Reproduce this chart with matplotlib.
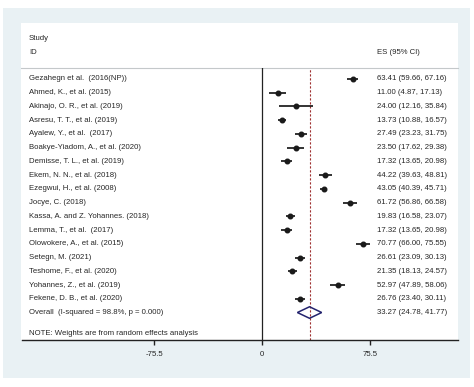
import matplotlib
matplotlib.use("Agg")
import matplotlib.pyplot as plt
from matplotlib.patches import Rectangle, Polygon
from matplotlib.lines import Line2D
import matplotlib.transforms as mtransforms

plt.rcParams['font.family'] = ['Liberation Sans', 'DejaVu Sans']

studies = [
    "Gezahegn et al.  (2016(NP))",
    "Ahmed, K., et al. (2015)",
    "Akinajo, O. R., et al. (2019)",
    "Asresu, T. T., et al. (2019)",
    "Ayalew, Y., et al.  (2017)",
    "Boakye-Yiadom, A., et al. (2020)",
    "Demisse, T. L., et al. (2019)",
    "Ekem, N. N., et al. (2018)",
    "Ezegwui, H., et al. (2008)",
    "Jocye, C. (2018)",
    "Kassa, A. and Z. Yohannes. (2018)",
    "Lemma, T., et al.  (2017)",
    "Olowokere, A., et al. (2015)",
    "Setegn, M. (2021)",
    "Teshome, F., et al. (2020)",
    "Yohannes, Z., et al. (2019)",
    "Fekene, D. B., et al. (2020)",
]
es = [63.41, 11.00, 24.00, 13.73, 27.49, 23.50, 17.32, 44.22, 43.05, 61.72,
      19.83, 17.32, 70.77, 26.61, 21.35, 52.97, 26.76]
lo = [59.66, 4.87, 12.16, 10.88, 23.23, 17.62, 13.65, 39.63, 40.39, 56.86,
      16.58, 13.65, 66.00, 23.09, 18.13, 47.89, 23.40]
hi = [67.16, 17.13, 35.84, 16.57, 31.75, 29.38, 20.98, 48.81, 45.71, 66.58,
      23.07, 20.98, 75.55, 30.13, 24.57, 58.06, 30.11]
overall_label = "Overall  (I-squared = 98.8%, p = 0.000)"
overall = (33.27, 24.78, 41.77)
ticks = [-75.5, 0, 75.5]
tick_labels = ["-75.5", "0", "75.5"]

W, H = 474, 387
fig = plt.figure(figsize=(W / 100, H / 100), dpi=100)
fig.patch.set_facecolor('white')

def fx(px):
    return px / W

def fy(py):
    return 1 - py / H

txt_col = '#262626'
fs = 5.6

# outer background and inner white panel
fig.add_artist(Rectangle((fx(3), fy(378)), fx(470) - fx(3), fy(8) - fy(378),
                         transform=fig.transFigure, facecolor='#e9f1f4', edgecolor='none', zorder=0))
fig.add_artist(Rectangle((fx(21), fy(340)), fx(458) - fx(21), fy(23) - fy(340),
                         transform=fig.transFigure, facecolor='white', edgecolor='none', zorder=0.5))
fig.add_artist(Line2D([fx(21), fx(458)], [fy(68), fy(68)], transform=fig.transFigure,
                      color='#c4c8ca', lw=0.8, zorder=1))

ax = fig.add_axes([fx(22), fy(340), fx(458) - fx(22), fy(68) - fy(340)])
ax.set_zorder(2)
ax.set_facecolor('none')
n = len(studies)
ax.set_xlim(-167.8, 137.1)
ax.set_ylim(19.0, -0.8)
for s in ['top', 'right', 'left']:
    ax.spines[s].set_visible(False)
ax.spines['bottom'].set_linewidth(1.0)
ax.spines['bottom'].set_color('#222222')
ax.set_yticks([])
ax.set_xticks(ticks)
ax.set_xticklabels(tick_labels, fontsize=fs, color=txt_col)
ax.tick_params(axis='x', direction='out', length=3.8, width=1.0, pad=4, color='#222222')

ax.axvline(0, color='#222222', lw=0.9)
ax.axvline(overall[0], color='#9e2f2f', lw=0.8, ls=(0, (2.0, 1.6)))

for i in range(n):
    ax.plot([lo[i], hi[i]], [i, i], color='#1a1a1a', lw=1.25, solid_capstyle='butt')
    ax.plot(es[i], i, marker='o', ms=3.3, color='#1a1a1a')

ov = n
m, l, h = overall
ax.add_patch(Polygon([[l, ov], [m, ov - 0.42], [h, ov], [m, ov + 0.42]], closed=True,
                     fill=False, edgecolor='#23236e', lw=1.1, zorder=3))

tr = mtransforms.blended_transform_factory(ax.transAxes, ax.transData)
labels = studies + [overall_label]
est = [f"{e:.2f} ({a:.2f}, {b:.2f})" for e, a, b in zip(es, lo, hi)] + \
      [f"{overall[0]:.2f} ({overall[1]:.2f}, {overall[2]:.2f})"]
for i, (lab, e) in enumerate(zip(labels, est)):
    ax.text(0.016, i, lab, transform=tr, fontsize=fs, color=txt_col, va='center', ha='left')
    ax.text(0.814, i, e, transform=tr, fontsize=fs, color=txt_col, va='center', ha='left')
ax.text(0.016, n + 1.5, "NOTE: Weights are from random effects analysis", transform=tr,
        fontsize=fs, color=txt_col, va='center', ha='left')

fig.text(fx(29), fy(38), "Study", fontsize=fs, color=txt_col, va='center', ha='left')
fig.text(fx(29), fy(52), "ID", fontsize=fs, color=txt_col, va='center', ha='left')
fig.text(fx(377), fy(52), "ES (95% CI)", fontsize=fs, color=txt_col, va='center', ha='left')

fig.savefig("out.png", dpi=100)
